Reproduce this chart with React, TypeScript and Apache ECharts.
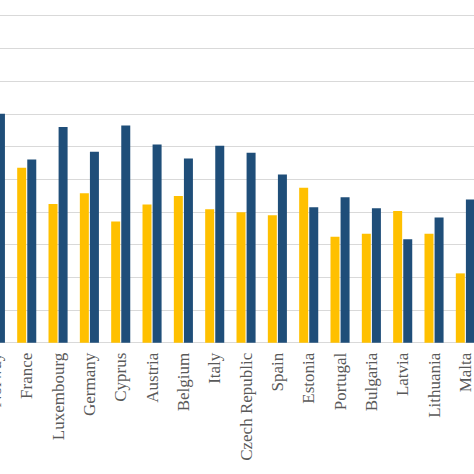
import React, { useEffect, useRef } from "react";
import * as echarts from "echarts";

const categories = [
  "Norway",
  "France",
  "Luxembourg",
  "Germany",
  "Cyprus",
  "Austria",
  "Belgium",
  "Italy",
  "Czech Republic",
  "Spain",
  "Estonia",
  "Portugal",
  "Bulgaria",
  "Latvia",
  "Lithuania",
  "Malta",
];

const yellowValues = [55, 53.5, 42.4, 45.7, 37.1, 42.3, 44.9, 40.8, 39.9, 39.0, 47.4, 32.4, 33.3, 40.3, 33.3, 21.2];
const blueValues = [70, 56, 66, 58.4, 66.4, 60.6, 56.3, 60.2, 58.1, 51.4, 41.4, 44.5, 41.1, 31.6, 38.3, 43.8];

export default function App() {
  const ref = useRef<HTMLDivElement>(null);
  useEffect(() => {
    if (!ref.current) return;
    const chart = echarts.init(ref.current, undefined, { renderer: "svg" });
    chart.setOption({
      animation: false,
      backgroundColor: "#ffffff",
      textStyle: { fontFamily: "Liberation Serif" },
      grid: { left: 19.73, right: 38.97, top: 15.7, bottom: 131.3, containLabel: false },
      xAxis: {
        type: "category",
        data: categories,
        axisTick: { show: false },
        axisLine: { show: true, lineStyle: { color: "#d9d9d9", width: 1 } },
        axisLabel: {
          rotate: 90,
          interval: 0,
          margin: 10,
          fontFamily: "Liberation Serif",
          fontWeight: "normal",
          fontSize: 17,
          color: "#595959",
        },
      },
      yAxis: {
        type: "value",
        min: 0,
        max: 100,
        interval: 10,
        axisLabel: { show: false },
        axisLine: { show: false },
        axisTick: { show: false },
        splitLine: { show: true, lineStyle: { color: "#d9d9d9", width: 1 } },
      },
      series: [
        {
          type: "bar",
          data: yellowValues,
          barWidth: 9,
          barGap: "12%",
          itemStyle: { color: "#FFC000" },
        },
        {
          type: "bar",
          data: blueValues,
          barWidth: 9,
          barGap: "12%",
          itemStyle: { color: "#1F4E79" },
        },
      ],
    });
    return () => chart.dispose();
  }, []);
  return (
    <div
      style={{
        position: "fixed",
        left: 0,
        top: 0,
        width: 474,
        height: 474,
        overflow: "hidden",
        background: "#fff",
      }}
    >
      <div ref={ref} style={{ position: "absolute", left: -40, top: 0, width: 560, height: 474 }} />
    </div>
  );
}
